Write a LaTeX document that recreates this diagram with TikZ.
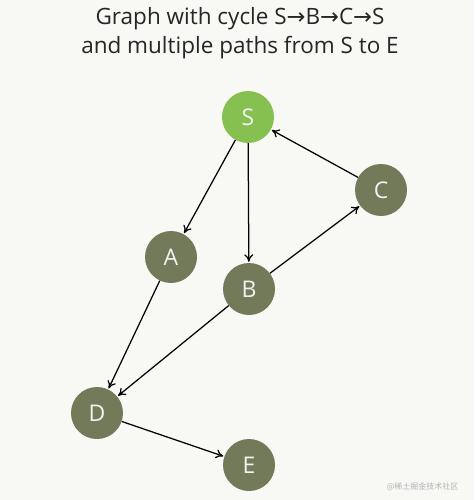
\documentclass[tikz,border=0pt]{standalone}
\usepackage{fontspec}
\setmainfont{Open Sans}
\newfontfamily\arrowfont{DejaVu Sans}
\newfontfamily\cjk{Noto Sans CJK SC}
\usetikzlibrary{arrows.meta}
\definecolor{bgc}{HTML}{F8F8F5}
\definecolor{olive}{HTML}{737A5A}
\definecolor{greenS}{HTML}{86C050}
\newcommand{\rarr}{{\arrowfont\char"2192}}
\begin{document}
\begin{tikzpicture}[x=1pt,y=-1pt,
  vert/.style={circle,fill=olive,draw=none,minimum size=52pt,inner sep=0pt,text=white!95!black,font=\fontsize{23}{23}\selectfont},
  edge/.style={-{To[length=7.5pt,width=9pt]},line width=1.25pt,black,shorten >=1pt}]
\fill[bgc] (0,0) rectangle (474,500);
\useasboundingbox (0,0) rectangle (474,500);
\node[font=\fontsize{22.5}{29}\selectfont,align=center,text=black!85] (title) at (240,33) {Graph with cycle S\rarr B\rarr C\rarr S\\and multiple paths from S to E};
\node[vert,fill=greenS] (S) at (248,117) {S};
\node[vert] (C) at (381,190) {C};
\node[vert] (A) at (171,257) {A};
\node[vert] (B) at (249,289) {B};
\node[vert] (D) at (97,413) {D};
\node[vert] (E) at (249,465) {E};
\draw[edge] (S) -- (A);
\draw[edge] (S) -- (B);
\draw[edge] (C) -- (S);
\draw[edge] (B) -- (C);
\draw[edge] (A) -- (D);
\draw[edge] (B) -- (D);
\draw[edge] (D) -- (E);
\node[font=\cjk\fontsize{8}{8}\selectfont,text=black!30,anchor=east] (wm) at (462,487) {@稀土掘金技术社区};
\end{tikzpicture}
\end{document}
